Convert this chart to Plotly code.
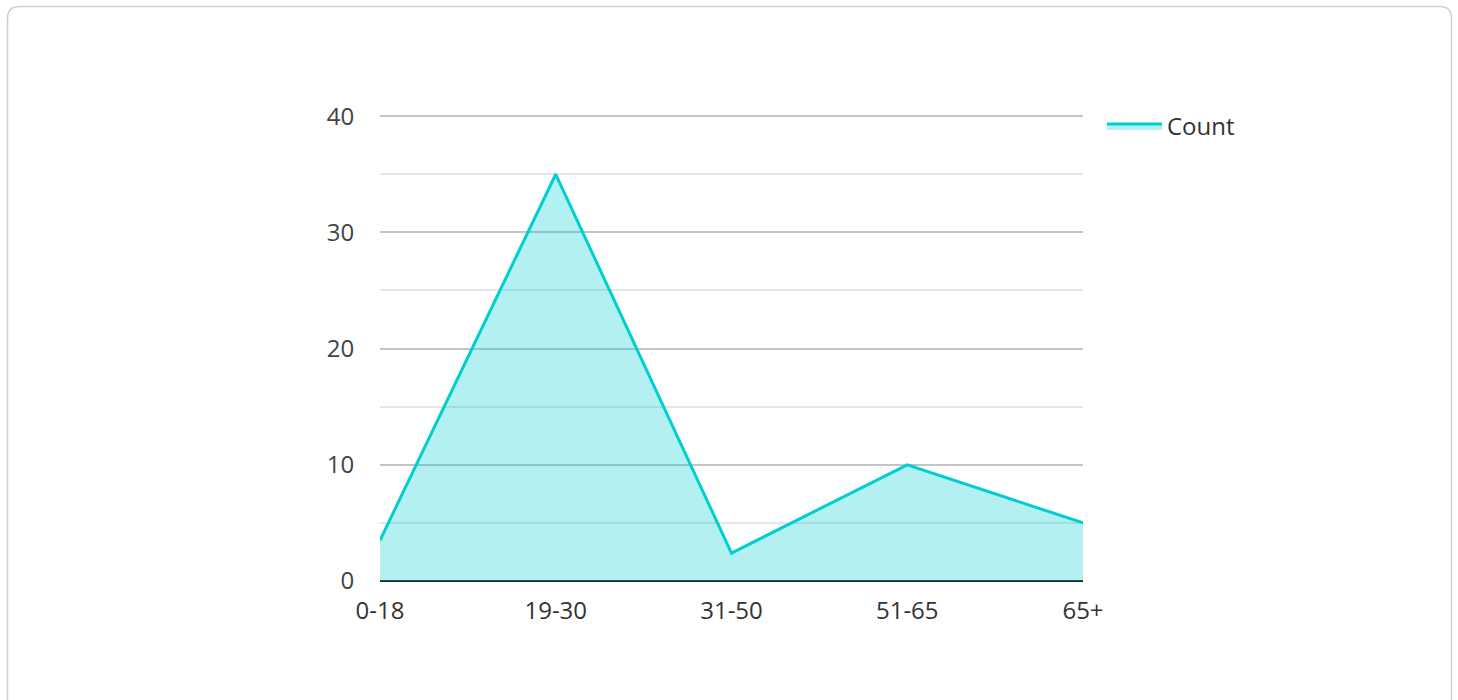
import plotly.graph_objects as go

categories = ["0-18", "19-30", "31-50", "51-65", "65+"]
counts = [3.5, 35, 2.4, 10, 5]
series_name = "Count"

W, H = 1458, 700
L, R, T, B = 380, 1083, 115, 581
YMAX = 40.1

fig = go.Figure()
fig.add_trace(go.Scatter(
    x=categories, y=counts, name=series_name, mode="lines",
    line=dict(color="#00CED1", width=3),
    fill="tozeroy", fillcolor="rgba(0,206,209,0.3)",
))

def px2paper(x, y):
    return (x - L) / (R - L), (B - y) / (B - T)

x0, y0 = px2paper(7.5, 6.5)
x1, y1 = px2paper(1451.5, 710)
rx = 12 / (R - L)
ry = 12 / (B - T)
path = (f"M {x0+rx},{y0} L {x1-rx},{y0} Q {x1},{y0} {x1},{y0-ry} "
        f"L {x1},{y1} L {x0},{y1} L {x0},{y0-ry} Q {x0},{y0} {x0+rx},{y0} Z")

fig.update_layout(
    width=W, height=H,
    margin=dict(l=L, r=W - R, t=T, b=H - B, autoexpand=False),
    paper_bgcolor="white", plot_bgcolor="white",
    font=dict(family="Open Sans", size=24, color="#333333"),
    showlegend=True,
    legend=dict(x=(1102 - L) / (R - L), y=1.03 - 3 / (B - T), xanchor="left", yanchor="top",
                itemwidth=55,
                font=dict(size=24, color="#333333"), bgcolor="rgba(0,0,0,0)"),
    shapes=[dict(type="path", path=path, xref="paper", yref="paper",
                 line=dict(color="#d0d0d0", width=1.5), fillcolor="rgba(0,0,0,0)",
                 layer="below")],
    xaxis=dict(type="category", range=[0, 4], showgrid=False, showline=False,
               zeroline=False, ticks="outside", ticklen=8, tickcolor="rgba(0,0,0,0)",
               tickfont=dict(size=24, color="#333333")),
    yaxis=dict(range=[0, YMAX], tick0=0, dtick=10, showgrid=True, gridcolor="#c4c4c4", gridwidth=1.5,
               zeroline=True, zerolinecolor="#222222", zerolinewidth=2,
               showline=False, ticks="outside", ticklen=20, tickcolor="rgba(0,0,0,0)",
               tickfont=dict(size=24, color="#444444"),
               minor=dict(dtick=5, showgrid=True, gridcolor="#e6e6e6", gridwidth=1.5)),
)

fig.write_html("out.html")
